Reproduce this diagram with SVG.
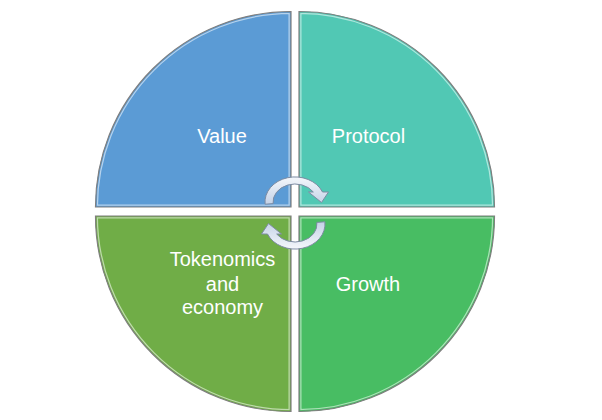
<svg xmlns="http://www.w3.org/2000/svg" width="602" height="420" viewBox="0 0 602 420">
<style>
.lbl{font-family:"Liberation Sans",Arial,sans-serif;font-size:20px;fill:#ffffff;text-anchor:middle}
.edge{fill:none;stroke:#7f7f7f;stroke-width:1.2}
.hl{fill:none;stroke:#ffffff;stroke-opacity:0.55;stroke-width:5}
.arrow{fill:url(#ag);stroke:#7d8ca3;stroke-width:1}
</style>
<defs>
<linearGradient id="ag" x1="0" y1="0" x2="0" y2="1">
<stop offset="0" stop-color="#f4f7fb"/>
<stop offset="1" stop-color="#c4d2e7"/>
</linearGradient>
<path id="pTL" d="M291,207 L95.5,207 A195.5,195.5 0 0 1 291,11.5 Z"/>
<path id="pTR" d="M299,207 L299,11.5 A195.5,195.5 0 0 1 494.5,207 Z"/>
<path id="pBL" d="M291,216 L291,411.5 A195.5,195.5 0 0 1 95.5,216 Z"/>
<path id="pBR" d="M299,216 L494.5,216 A195.5,195.5 0 0 1 299,411.5 Z"/>
<clipPath id="cTL"><use href="#pTL"/></clipPath>
<clipPath id="cTR"><use href="#pTR"/></clipPath>
<clipPath id="cBL"><use href="#pBL"/></clipPath>
<clipPath id="cBR"><use href="#pBR"/></clipPath>
<path id="arr" d="M265.1,204.2 A30,25 0 0 1 322.5,192 L328.5,192 L321.5,202.5 L308.5,192 L313.3,192 A22,18 0 0 0 273.1,203.6 Z"/>
</defs>
<rect width="602" height="420" fill="#ffffff"/>
<g id="node-value">
<use href="#pTL" fill="#5b9bd5"/>
<g clip-path="url(#cTL)"><use href="#pTL" class="hl"/><use href="#pTL" fill="none" stroke="#5b9bd5" stroke-width="2.5"/></g>
<use href="#pTL" class="edge"/>
<text class="lbl" x="222" y="143">Value</text>
</g>
<g id="node-protocol">
<use href="#pTR" fill="#51c8b4"/>
<g clip-path="url(#cTR)"><use href="#pTR" class="hl"/><use href="#pTR" fill="none" stroke="#51c8b4" stroke-width="2.5"/></g>
<use href="#pTR" class="edge"/>
<text class="lbl" x="368.5" y="143">Protocol</text>
</g>
<g id="node-tokenomics">
<use href="#pBL" fill="#70ad47"/>
<g clip-path="url(#cBL)"><use href="#pBL" class="hl"/><use href="#pBL" fill="none" stroke="#70ad47" stroke-width="2.5"/></g>
<use href="#pBL" class="edge"/>
<text class="lbl" x="222.5" y="266">Tokenomics</text>
<text class="lbl" x="222.5" y="291">and</text>
<text class="lbl" x="222.5" y="314">economy</text>
</g>
<g id="node-growth">
<use href="#pBR" fill="#48bd63"/>
<g clip-path="url(#cBR)"><use href="#pBR" class="hl"/><use href="#pBR" fill="none" stroke="#48bd63" stroke-width="2.5"/></g>
<use href="#pBR" class="edge"/>
<text class="lbl" x="368" y="291">Growth</text>
</g>
<g id="connectors">
<use href="#arr" class="arrow"/>
<use href="#arr" class="arrow" transform="rotate(180 295 213)"/>
</g>
</svg>
